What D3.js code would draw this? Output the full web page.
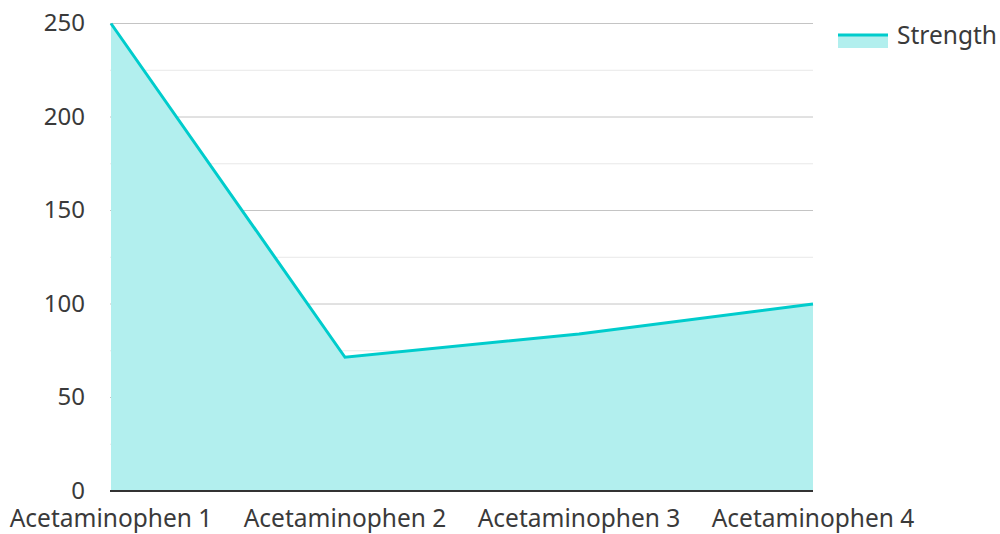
<!DOCTYPE html>
<html lang="en">
<head>
  <meta charset="UTF-8">
  <title>Strength</title>
  <style>
    body { margin: 0; background: #fff; font-family: "Noto Sans", "Open Sans", sans-serif; }
    svg text { fill: #3a3a3a; }
  </style>
</head>
<body>
  <div id="chart"></div>
  <script src="https://cdn.jsdelivr.net/npm/d3@7"></script>
  <script>
    const categories = ["Acetaminophen 1", "Acetaminophen 2", "Acetaminophen 3", "Acetaminophen 4"];
    const strength = [250, 71.5, 84, 100];
    const yTicks = [0, 50, 100, 150, 200, 250];
    const minorTicks = [25, 75, 125, 175, 225];

    const width = 1000, height = 534;
    const margin = { top: 23.5, right: 187, bottom: 43, left: 111 };

    const svg = d3.select("#chart").append("svg")
      .attr("width", width)
      .attr("height", height);

    const x = d3.scalePoint()
      .domain(categories)
      .range([margin.left, width - margin.right]);

    const y = d3.scaleLinear()
      .domain([0, 250])
      .range([height - margin.bottom, margin.top]);

    // grid
    svg.append("g").selectAll("line")
      .data(minorTicks)
      .join("line")
      .attr("x1", margin.left - 1).attr("x2", width - margin.right)
      .attr("y1", d => y(d)).attr("y2", d => y(d))
      .attr("stroke", "#e8e8e8").attr("stroke-width", 1);

    svg.append("g").selectAll("line")
      .data(yTicks.filter(d => d > 0))
      .join("line")
      .attr("x1", margin.left - 1).attr("x2", width - margin.right)
      .attr("y1", d => y(d)).attr("y2", d => y(d))
      .attr("stroke", "#c4c4c4").attr("stroke-width", 1);

    const data = categories.map((c, i) => ({ c, v: strength[i] }));

    svg.append("path")
      .datum(data)
      .attr("fill", "#b2efee")
      .attr("d", d3.area().x(d => x(d.c)).y0(y(0)).y1(d => y(d.v)));

    svg.append("path")
      .datum(data)
      .attr("fill", "none")
      .attr("stroke", "#00cccc")
      .attr("stroke-width", 3)
      .attr("d", d3.line().x(d => x(d.c)).y(d => y(d.v)));

    // x axis line
    svg.append("line")
      .attr("x1", margin.left - 1).attr("x2", width - margin.right)
      .attr("y1", y(0)).attr("y2", y(0))
      .attr("stroke", "#333").attr("stroke-width", 2);

    // y tick labels
    svg.append("g").selectAll("text")
      .data(yTicks)
      .join("text")
      .attr("x", 85)
      .attr("y", d => y(d))
      .attr("dy", "0.33em")
      .attr("text-anchor", "end")
      .attr("font-size", 24)
      .text(d => d);

    // x labels
    svg.append("g").selectAll("text")
      .data(categories)
      .join("text")
      .attr("x", d => x(d))
      .attr("y", 527)
      .attr("text-anchor", "middle")
      .attr("font-size", 24.5)
      .text(d => d);

    // legend
    const lg = svg.append("g").attr("transform", "translate(838,33)");
    lg.append("rect").attr("x", 0).attr("y", 2).attr("width", 50).attr("height", 13).attr("fill", "#b2efee");
    lg.append("line").attr("x1", 0).attr("x2", 50).attr("y1", 2).attr("y2", 2)
      .attr("stroke", "#00cccc").attr("stroke-width", 3);
    lg.append("text").attr("x", 59).attr("y", 11).attr("font-size", 24.5).text("Strength");
  </script>
</body>
</html>
